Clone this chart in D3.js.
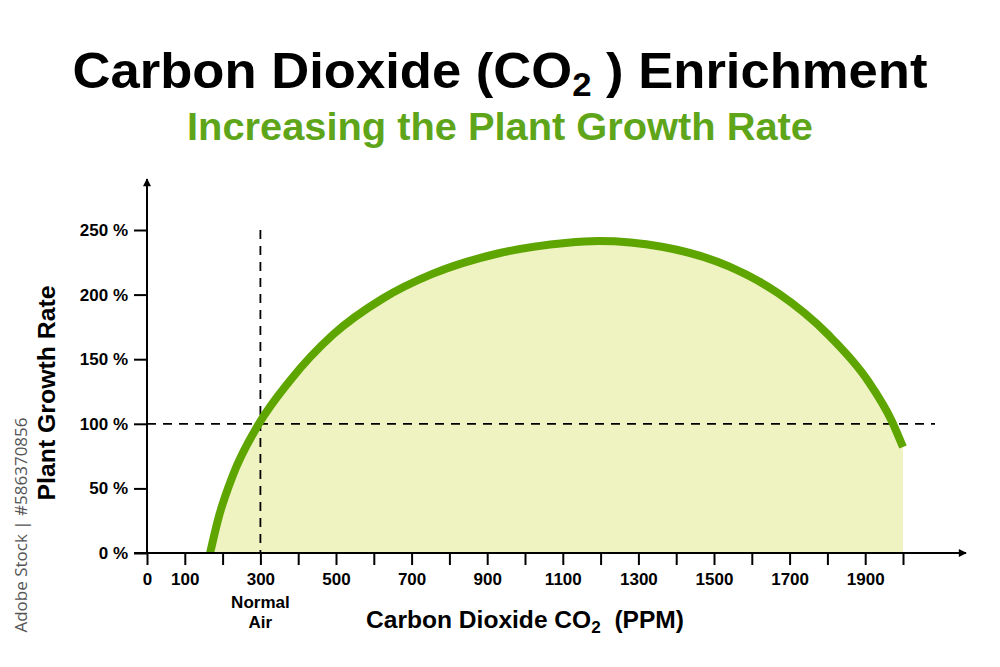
<!DOCTYPE html>
<html>
<head>
<meta charset="utf-8">
<script src="https://cdn.jsdelivr.net/npm/d3@7"></script>
<style>
  body { margin: 0; background: #fff; }
  svg text { font-family: "Liberation Sans", Arial, sans-serif; font-weight: bold; }
</style>
</head>
<body>
<svg id="chart"></svg>
<script>
// data: CO2 ppm -> growth rate %
const ppm = [167, 189, 227, 296, 377, 492, 624, 755, 931, 1107, 1195, 1362, 1538, 1670, 1802, 1908, 1969, 2000];
const growth = [0, 27, 60, 100, 133, 169, 197, 216, 232, 240, 241.5, 237, 222, 201, 169, 133, 103, 82];
const xTicks = d3.range(0, 2001, 100);
const xLabels = [0, 100, 300, 500, 700, 900, 1100, 1300, 1500, 1700, 1900];
const yTicks = [0, 50, 100, 150, 200, 250];
const normalAir = 300;
const baseline = 100;

const W = 1000, H = 667;
const green = "#5ea500", fillColor = "#eef3c1";

const svg = d3.select("#chart").attr("width", W).attr("height", H);

const x = d3.scaleLinear().domain([0, 2000]).range([147, 903]);
const y = d3.scaleLinear().domain([0, 250]).range([553, 230]);

const data = ppm.map((p, i) => ({ p: p, g: growth[i] }));

// area under the curve
svg.append("path")
  .datum(data)
  .attr("fill", fillColor)
  .attr("d", d3.area().x(d => x(d.p)).y0(y(0)).y1(d => y(d.g)).curve(d3.curveMonotoneX));

// dashed reference lines
svg.append("line")
  .attr("x1", x(normalAir)).attr("x2", x(normalAir))
  .attr("y1", y(250)).attr("y2", y(0))
  .attr("stroke", "#000").attr("stroke-width", 1.8).attr("stroke-dasharray", "9,7");
svg.append("line")
  .attr("x1", x(0)).attr("x2", 935)
  .attr("y1", y(baseline)).attr("y2", y(baseline))
  .attr("stroke", "#000").attr("stroke-width", 1.8).attr("stroke-dasharray", "9,7");

// the curve
svg.append("path")
  .datum(data)
  .attr("fill", "none")
  .attr("stroke", green)
  .attr("stroke-width", 8)
  .attr("d", d3.line().x(d => x(d.p)).y(d => y(d.g)).curve(d3.curveMonotoneX));

// arrow marker
svg.append("defs").append("marker")
  .attr("id", "arrow")
  .attr("viewBox", "0 0 10 10")
  .attr("refX", 9).attr("refY", 5)
  .attr("markerWidth", 10).attr("markerHeight", 8)
  .attr("markerUnits", "userSpaceOnUse")
  .attr("orient", "auto")
  .append("path").attr("d", "M0,0L10,5L0,10Z").attr("fill", "#000");

// x axis
const xAxis = svg.append("g")
  .attr("transform", `translate(0,${y(0)})`)
  .call(d3.axisBottom(x).tickValues(xTicks).tickSize(12).tickSizeOuter(0)
    .tickFormat(d => xLabels.includes(d) ? d : ""));
xAxis.select(".domain").remove();
xAxis.selectAll(".tick line").attr("stroke-width", 2);
xAxis.selectAll(".tick text").attr("font-size", 17).attr("fill", "#000")
  .attr("y", 32).attr("dy", null)
  .style("font-family", "'Liberation Sans', Arial, sans-serif").style("font-weight", "bold");

// y axis
const yAxis = svg.append("g")
  .attr("transform", `translate(${x(0)},0)`)
  .call(d3.axisLeft(y).tickValues(yTicks).tickSize(13).tickSizeOuter(0)
    .tickFormat(d => d + " %"));
yAxis.select(".domain").remove();
yAxis.selectAll(".tick line").attr("stroke-width", 2);
yAxis.selectAll(".tick text").attr("font-size", 17).attr("fill", "#000").attr("x", -19)
  .style("font-family", "'Liberation Sans', Arial, sans-serif").style("font-weight", "bold");

// axis lines with arrowheads
svg.append("line")
  .attr("x1", 134).attr("x2", 966).attr("y1", y(0)).attr("y2", y(0))
  .attr("stroke", "#000").attr("stroke-width", 2).attr("marker-end", "url(#arrow)");
svg.append("line")
  .attr("x1", x(0)).attr("x2", x(0)).attr("y1", y(0) + 1).attr("y2", 179)
  .attr("stroke", "#000").attr("stroke-width", 2).attr("marker-end", "url(#arrow)");

// "Normal Air" note
svg.append("text").attr("x", x(normalAir)).attr("y", 608).attr("text-anchor", "middle")
  .attr("font-size", 17).text("Normal");
svg.append("text").attr("x", x(normalAir)).attr("y", 628).attr("text-anchor", "middle")
  .attr("font-size", 17).text("Air");

// titles
const title = svg.append("text").attr("x", 500).attr("y", 88).attr("text-anchor", "middle")
  .attr("font-size", 50).attr("fill", "#000")
  .attr("textLength", 855).attr("lengthAdjust", "spacingAndGlyphs");
title.append("tspan").text("Carbon Dioxide (CO");
title.append("tspan").attr("font-size", 33).attr("dy", 8).text("2");
title.append("tspan").attr("dy", -8).text(" ) Enrichment");

svg.append("text").attr("x", 500).attr("y", 140).attr("text-anchor", "middle")
  .attr("font-size", 38).attr("fill", "#5ea51a")
  .attr("textLength", 626).attr("lengthAdjust", "spacingAndGlyphs")
  .text("Increasing the Plant Growth Rate");

// axis titles
const xt = svg.append("text").attr("x", 525).attr("y", 628).attr("text-anchor", "middle")
  .attr("font-size", 23).attr("fill", "#000")
  .attr("textLength", 318).attr("lengthAdjust", "spacingAndGlyphs");
xt.append("tspan").text("Carbon Dioxide CO");
xt.append("tspan").attr("font-size", 16).attr("dy", 5).text("2");
xt.append("tspan").attr("dy", -5).text("\u00a0 (PPM)");

svg.append("text")
  .attr("transform", "translate(55,393) rotate(-90)")
  .attr("text-anchor", "middle").attr("font-size", 23).attr("fill", "#000")
  .attr("textLength", 215).attr("lengthAdjust", "spacingAndGlyphs")
  .text("Plant Growth Rate");

// stock id on the left edge
svg.append("text")
  .attr("transform", "translate(27,525) rotate(-90)")
  .attr("text-anchor", "middle").attr("font-size", 17).attr("fill", "#555")
  .style("font-weight", "normal").style("font-family", "'Open Sans', sans-serif")
  .text("Adobe Stock | #586370856");
</script>
</body>
</html>
